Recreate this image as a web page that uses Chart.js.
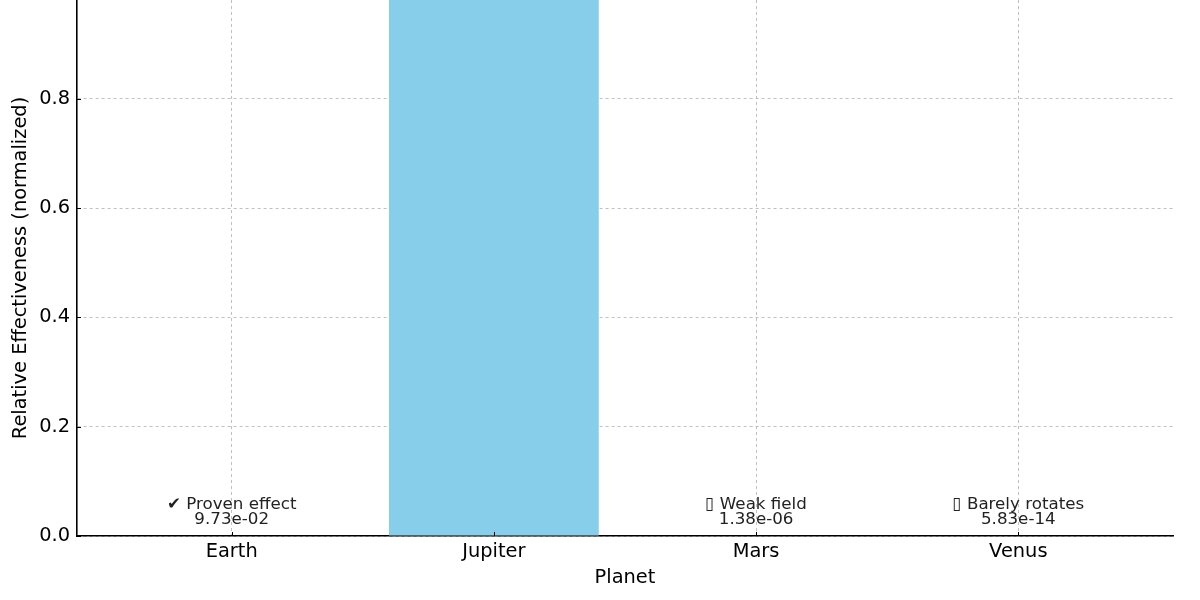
<!DOCTYPE html>
<html>
<head>
<meta charset="utf-8">
<script src="https://cdn.jsdelivr.net/npm/chart.js@4"></script>
<style>
html,body{margin:0;padding:0;background:#fff;}
#wrap{width:1200px;height:600px;}
</style>
</head>
<body>
<div id="wrap"><canvas id="c" width="1200" height="600"></canvas></div>
<script>
const planets = ["Earth", "Jupiter", "Mars", "Venus"];
const effectiveness = [0, 1.0, 0, 0];
const noteLabels = ["\u2714 Proven effect", "", "\u25AF Weak field", "\u25AF Barely rotates"];
const rawValues = ["9.73e-02", "", "1.38e-06", "5.83e-14"];
const yTicks = [0, 0.2, 0.4, 0.6, 0.8];

const FONT = "'DejaVu Sans', sans-serif";

const notesPlugin = {
  id: 'notes',
  afterDraw(chart) {
    const ctx = chart.ctx;
    const xs = chart.scales.x, ys = chart.scales.y;
    ctx.save();
    ctx.fillStyle = '#222';
    ctx.font = "16.7px " + FONT;
    ctx.textAlign = 'center';
    ctx.textBaseline = 'alphabetic';
    planets.forEach((p, i) => {
      if (!noteLabels[i]) return;
      const x = xs.getPixelForValue(i);
      const y = ys.getPixelForValue(effectiveness[i]);
      ctx.fillText(noteLabels[i], x, y - 27);
      ctx.fillText(rawValues[i], x, y - 12);
    });
    // inward ticks
    ctx.strokeStyle = '#000';
    ctx.lineWidth = 1;
    const ca = chart.chartArea;
    yTicks.forEach(v => {
      const y = Math.round(ys.getPixelForValue(v)) + 0.5;
      ctx.beginPath(); ctx.moveTo(ca.left, y); ctx.lineTo(ca.left + 4, y); ctx.stroke();
    });
    planets.forEach((p, i) => {
      const x = Math.round(xs.getPixelForValue(i)) + 0.5;
      ctx.beginPath(); ctx.moveTo(x, ca.bottom); ctx.lineTo(x, ca.bottom - 4); ctx.stroke();
    });
    ctx.restore();
  }
};

new Chart(document.getElementById('c'), {
  type: 'bar',
  data: {
    datasets: [{
      data: planets.map((p, i) => ({x: i, y: effectiveness[i]})),
      backgroundColor: '#87CEEB',
      borderWidth: 0,
      barPercentage: 0.8,
      categoryPercentage: 1.0
    }]
  },
  options: {
    responsive: false,
    animation: false,
    layout: {padding: {top: 0, right: 27, left: 0, bottom: 0}},
    plugins: {legend: {display: false}, tooltip: {enabled: false}},
    scales: {
      x: {
        type: 'linear',
        offset: false,
        min: -0.59, max: 3.59,
        z: 1,
        afterBuildTicks: s => { s.ticks = planets.map((_, i) => ({value: i})); },
        afterFit: s => { s.height = 64; s.paddingLeft = 0; s.paddingRight = 0; },
        ticks: {
          callback: v => planets[v] !== undefined ? planets[v] : '',
          font: {family: FONT, size: 19.4}, color: '#000', padding: 4,
          maxRotation: 0, autoSkip: false
        },
        grid: {color: 'rgba(176,176,176,0.8)', lineWidth: 1, drawTicks: false, offset: false},
        border: {display: true, color: '#000', width: 1.6, dash: [3, 3]},
        title: {display: true, text: 'Planet', font: {family: FONT, size: 19.4}, color: '#000', padding: {top: 0, bottom: 10}}
      },
      y: {
        min: 0, max: 0.981,
        z: 1,
        afterBuildTicks: s => { s.ticks = yTicks.map(v => ({value: v})); },
        afterFit: s => { s.width = 77; s.paddingTop = 0; s.paddingBottom = 0; },
        ticks: {
          callback: v => v.toFixed(1),
          font: {family: FONT, size: 19.4}, color: '#000', padding: 7
        },
        grid: {color: 'rgba(176,176,176,0.8)', lineWidth: 1, drawTicks: false},
        border: {display: true, color: '#000', width: 1.6, dash: [3, 3]},
        title: {display: true, text: 'Relative Effectiveness (normalized)', font: {family: FONT, size: 19.4}, color: '#000', padding: {top: 9, bottom: 0}}
      }
    }
  },
  plugins: [notesPlugin]
});
</script>
</body>
</html>
